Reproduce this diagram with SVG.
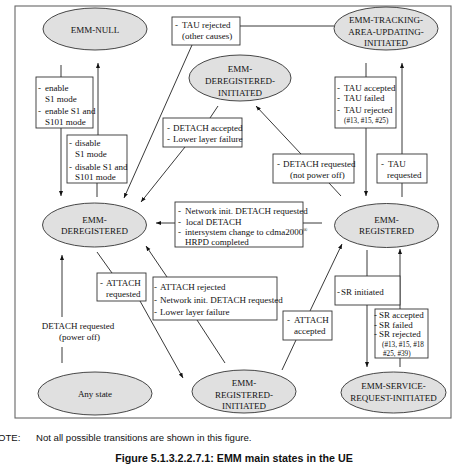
<svg xmlns="http://www.w3.org/2000/svg" width="474" height="476" viewBox="0 0 474 476">
<defs>
<marker id="ah" viewBox="0 0 10 10" refX="10" refY="5" markerWidth="5" markerHeight="5" orient="auto" markerUnits="userSpaceOnUse">
<path d="M0,1 L10,5 L0,9 z" fill="#111"/>
</marker>
</defs>
<style>
.st ellipse{fill:#e0e0e0;stroke:#333;stroke-width:0.9}
.bx rect{fill:#fff;stroke:#333;stroke-width:0.9}
text{font-family:"Liberation Serif","Times New Roman",serif;font-size:9px;fill:#111}
.c{text-anchor:middle}
.sm{font-size:7.2px}
.cn line{stroke:#222;stroke-width:0.9;fill:none}
.ar{marker-end:url(#ah)}
.note{font-family:"Liberation Sans",Arial,sans-serif;font-size:9.6px}
.cap{font-family:"Liberation Sans",Arial,sans-serif;font-size:10.7px;font-weight:bold}
</style>
<rect width="474" height="476" fill="#fff"/>
<rect x="15" y="6" width="436" height="412" fill="none" stroke="#666" stroke-width="1.1"/>

<g class="cn" id="connectors">
<line x1="61" y1="65" x2="61" y2="77"/>
<line class="ar" x1="61" y1="128" x2="61" y2="196"/>
<line x1="97" y1="197" x2="97" y2="183"/>
<line class="ar" x1="98" y1="135" x2="98" y2="63"/>
<line x1="240" y1="26" x2="334" y2="26"/>
<line class="ar" x1="192" y1="45" x2="124" y2="198"/>
<line x1="218" y1="106" x2="210" y2="118"/>
<line class="ar" x1="185" y1="147" x2="141" y2="202"/>
<line x1="341" y1="196" x2="329" y2="183"/>
<line class="ar" x1="301" y1="154" x2="256" y2="106"/>
<line x1="366" y1="63" x2="366" y2="77"/>
<line class="ar" x1="366" y1="128" x2="366" y2="196"/>
<line x1="402" y1="197" x2="402" y2="183"/>
<line class="ar" x1="402" y1="154" x2="402" y2="63"/>
<line x1="322" y1="223" x2="303" y2="223"/>
<line class="ar" x1="175" y1="223" x2="156" y2="223"/>
<line x1="225" y1="363" x2="197" y2="320"/>
<line class="ar" x1="167" y1="277" x2="146" y2="246"/>
<line x1="97" y1="252" x2="112" y2="273"/>
<line class="ar" x1="140" y1="301" x2="183" y2="378"/>
<line x1="62" y1="363" x2="62" y2="347"/>
<line class="ar" x1="62" y1="317" x2="62" y2="255"/>
<line x1="282" y1="370" x2="296" y2="340"/>
<line class="ar" x1="310" y1="311" x2="342" y2="244"/>
<line x1="367" y1="250" x2="367" y2="276"/>
<line class="ar" x1="367" y1="305" x2="367" y2="367"/>
<line x1="400" y1="367" x2="400" y2="358"/>
<line class="ar" x1="400" y1="309" x2="400" y2="249"/>
</g>

<g class="st" id="emm-null"><ellipse cx="95" cy="29" rx="52" ry="21"/><text class="c" x="95" y="33">EMM-NULL</text></g>
<g class="st" id="emm-tau-init"><ellipse cx="386" cy="28.5" rx="52" ry="21.5"/><text class="c" x="386" y="23">EMM-TRACKING-</text><text class="c" x="386" y="34.5">AREA-UPDATING-</text><text class="c" x="386" y="46">INITIATED</text></g>
<g class="st" id="emm-dereg-init"><ellipse cx="240" cy="78" rx="51" ry="23"/><text class="c" x="240" y="72">EMM-</text><text class="c" x="240" y="84">DEREGISTERED-</text><text class="c" x="240" y="95.5">INITIATED</text></g>
<g class="st" id="emm-deregistered"><ellipse cx="94.5" cy="225" rx="52" ry="22"/><text class="c" x="94.5" y="222.5">EMM-</text><text class="c" x="94.5" y="234">DEREGISTERED</text></g>
<g class="st" id="emm-registered"><ellipse cx="386.5" cy="225.5" rx="52" ry="22"/><text class="c" x="386.5" y="222.5">EMM-</text><text class="c" x="386.5" y="234">REGISTERED</text></g>
<g class="st" id="any-state"><ellipse cx="95" cy="393.5" rx="57" ry="21.5"/><text class="c" x="95" y="397">Any state</text></g>
<g class="st" id="emm-reg-init"><ellipse cx="244" cy="391.5" rx="52" ry="21.5"/><text class="c" x="244" y="386">EMM-</text><text class="c" x="244" y="397.5">REGISTERED-</text><text class="c" x="244" y="409">INITIATED</text></g>
<g class="st" id="emm-sr-init"><ellipse cx="393.5" cy="392.5" rx="52.5" ry="20.5"/><text class="c" x="393.5" y="389">EMM-SERVICE-</text><text class="c" x="393.5" y="400.5">REQUEST-INITIATED</text></g>

<g class="bx" id="lbl-tau-rej-other"><rect x="172" y="17" width="68" height="28"/><text x="175" y="28">-</text><text x="182" y="28">TAU rejected</text><text x="182" y="39">(other causes)</text></g>
<g class="bx" id="lbl-enable"><rect x="36" y="77" width="57" height="51"/><text x="38" y="91">-</text><text x="45" y="91">enable</text><text x="45" y="101.5">S1 mode</text><text x="38" y="114">-</text><text x="45" y="114">enable S1 and</text><text x="45" y="124.5">S101 mode</text></g>
<g class="bx" id="lbl-disable"><rect x="67" y="135" width="60" height="48"/><text x="69" y="146">-</text><text x="75" y="146">disable</text><text x="75" y="156.5">S1 mode</text><text x="69" y="169.5">-</text><text x="75" y="169.5">disable S1 and</text><text x="75" y="180">S101 mode</text></g>
<g class="bx" id="lbl-detach-acc"><rect x="163" y="118" width="79" height="29"/><text x="167" y="131">-</text><text x="173" y="131">DETACH accepted</text><text x="167" y="142">-</text><text x="173" y="142">Lower layer failure</text></g>
<g class="bx" id="lbl-tau-acc"><rect x="335" y="77" width="61" height="51"/><text x="337" y="91">-</text><text x="344" y="91">TAU accepted</text><text x="337" y="101">-</text><text x="344" y="101">TAU failed</text><text x="337" y="112.5">-</text><text x="344" y="112.5">TAU rejected</text><text class="sm" x="344" y="122.5">(#13, #15, #25)</text></g>
<g class="bx" id="lbl-detach-req"><rect x="273" y="154" width="81" height="29"/><text x="277" y="167">-</text><text x="283" y="167">DETACH requested</text><text x="290" y="177.5">(not power off)</text></g>
<g class="bx" id="lbl-tau-req"><rect x="377" y="154" width="50" height="29"/><text x="381" y="167">-</text><text x="388" y="167">TAU</text><text x="387" y="177.5">requested</text></g>
<g class="bx" id="lbl-nw-detach"><rect x="175" y="202" width="128" height="45"/><text x="178" y="214">-</text><text x="185" y="214">Network init. DETACH requested</text><text x="178" y="225">-</text><text x="186" y="225">local DETACH</text><text x="178" y="234.5">-</text><text x="185" y="234.5">intersystem change to cdma2000<tspan font-size="5.5px" dy="-3">®</tspan></text><text x="185" y="244.5">HRPD completed</text></g>
<g class="bx" id="lbl-attach-req"><rect x="97" y="273" width="49" height="28"/><text x="100" y="286">-</text><text x="106" y="286">ATTACH</text><text x="106" y="296.5">requested</text></g>
<g class="bx" id="lbl-attach-rej"><rect x="153" y="277" width="124" height="43"/><text x="154" y="290">-</text><text x="160" y="290">ATTACH rejected</text><text x="154" y="303">-</text><text x="160" y="303">Network init. DETACH requested</text><text x="154" y="315">-</text><text x="160" y="315">Lower layer failure</text></g>
<g class="bx" id="lbl-attach-acc"><rect x="283" y="311" width="49" height="29"/><text x="287" y="323">-</text><text x="294" y="323">ATTACH</text><text x="294" y="334">accepted</text></g>
<g class="bx" id="lbl-sr-init"><rect x="335" y="276" width="65" height="29"/><text x="337" y="295">-</text><text x="341" y="295">SR initiated</text></g>
<g class="bx" id="lbl-sr-acc"><rect x="375" y="309" width="53" height="49"/><text x="374" y="318">-</text><text x="379" y="318">SR accepted</text><text x="374" y="327.5">-</text><text x="379" y="327.5">SR failed</text><text x="374" y="337">-</text><text x="379" y="337">SR rejected</text><text class="sm" x="382" y="346.5">(#13, #15, #18</text><text class="sm" x="383" y="355.5">#25, #39)</text></g>
<g id="lbl-detach-power-off"><text class="c" x="78" y="329">DETACH requested</text><text class="c" x="79.5" y="339.5">(power off)</text></g>

<text class="note" x="-9" y="441">NOTE:</text>
<text class="note" x="36" y="441">Not all possible transitions are shown in this figure.</text>
<text class="cap c" x="234" y="462">Figure 5.1.3.2.2.7.1: EMM main states in the UE</text>
</svg>
